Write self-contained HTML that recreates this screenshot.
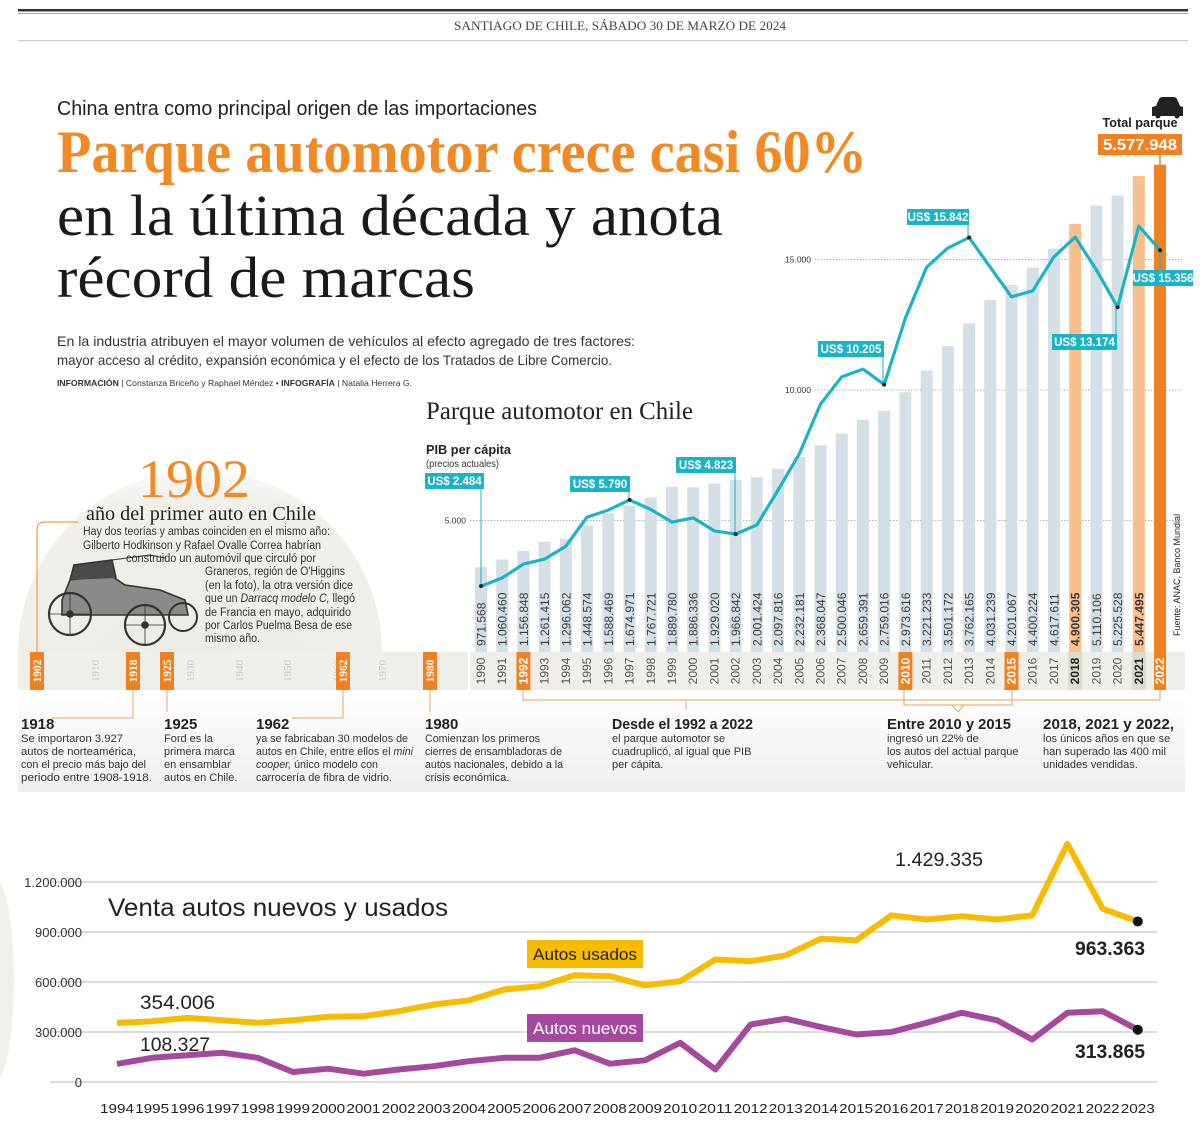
<!DOCTYPE html>
<html><head><meta charset="utf-8">
<style>
html,body{margin:0;padding:0;background:#fff;}
svg{display:block;}
.sans{font-family:"Liberation Sans Narrow","Liberation Sans",sans-serif;}
.serif{font-family:"Liberation Serif",serif;}
</style></head>
<body>
<svg id="page" width="1200" height="1140" viewBox="0 0 1200 1140" xmlns="http://www.w3.org/2000/svg">
<defs>
<radialGradient id="halo" cx="0.5" cy="1" r="1">
<stop offset="0" stop-color="#ecebe5"/><stop offset="0.85" stop-color="#f1f0eb"/><stop offset="1" stop-color="#fafaf8"/>
</radialGradient>
<linearGradient id="notesbg" x1="0" y1="0" x2="0" y2="1">
<stop offset="0" stop-color="#ffffff"/><stop offset="1" stop-color="#efefef"/>
</linearGradient>
</defs>
<rect width="1200" height="1140" fill="#fff"/>

<g>
<rect x="18" y="9" width="1170" height="2.5" fill="#333"/>
<rect x="18" y="13" width="1170" height="0.8" fill="#888"/>
<text x="620" y="30" text-anchor="middle" class="serif" font-size="12.5" fill="#444" textLength="332" lengthAdjust="spacingAndGlyphs">SANTIAGO DE CHILE, SÁBADO 30 DE MARZO DE 2024</text>
<rect x="18" y="40" width="1170" height="1.2" fill="#ccc"/>
</g>

<g>
<text x="57" y="115" class="sans" font-size="20" fill="#222" textLength="480" lengthAdjust="spacingAndGlyphs">China entra como principal origen de las importaciones</text>
<text x="57" y="172" class="serif" font-weight="bold" font-size="60" fill="#f08a24" textLength="810" lengthAdjust="spacingAndGlyphs">Parque automotor crece casi 60%</text>
<text x="57" y="235" class="serif" font-size="58" fill="#1a1a1a" textLength="666" lengthAdjust="spacingAndGlyphs">en la última década y anota</text>
<text x="57" y="297" class="serif" font-size="58" fill="#1a1a1a" textLength="418" lengthAdjust="spacingAndGlyphs">récord de marcas</text>
<text x="57" y="346" class="sans" font-size="14" fill="#333" textLength="578" lengthAdjust="spacingAndGlyphs">En la industria atribuyen el mayor volumen de vehículos al efecto agregado de tres factores:</text>
<text x="57" y="365" class="sans" font-size="14" fill="#333" textLength="555" lengthAdjust="spacingAndGlyphs">mayor acceso al crédito, expansión económica y el efecto de los Tratados de Libre Comercio.</text>
<text x="57" y="386" class="sans" font-size="8.5" fill="#333" textLength="355" lengthAdjust="spacingAndGlyphs"><tspan font-weight="bold">INFORMACIÓN</tspan> | Constanza Briceño y Raphael Méndez  •  <tspan font-weight="bold">INFOGRAFÍA</tspan> | Natalia Herrera G.</text>
</g>

<path d="M18 652 A182 182 0 0 1 382 652 Z" fill="url(#halo)"/>
<g>
<text x="138" y="497" class="serif" font-size="54" fill="#f08a24" textLength="112" lengthAdjust="spacingAndGlyphs">1902</text>
<text x="86" y="520" class="serif" font-size="20" fill="#222" textLength="230" lengthAdjust="spacingAndGlyphs">año del primer auto en Chile</text>
<g class="sans" font-size="11.5" fill="#333">
<text x="83" y="535" textLength="247" lengthAdjust="spacingAndGlyphs">Hay dos teorías y ambas coinciden en el mismo año:</text>
<text x="83" y="549" textLength="238" lengthAdjust="spacingAndGlyphs">Gilberto Hodkinson y Rafael Ovalle Correa habrían</text>
<text x="126" y="562" textLength="190" lengthAdjust="spacingAndGlyphs">construido un automóvil que circuló por</text>
<text x="205" y="575" textLength="140" lengthAdjust="spacingAndGlyphs">Graneros, región de O'Higgins</text>
<text x="205" y="589" textLength="148" lengthAdjust="spacingAndGlyphs">(en la foto), la otra versión dice</text>
<text x="205" y="602" textLength="150" lengthAdjust="spacingAndGlyphs">que un <tspan font-style="italic">Darracq modelo C,</tspan> llegó</text>
<text x="205" y="616" textLength="146" lengthAdjust="spacingAndGlyphs">de Francia en mayo, adquirido</text>
<text x="205" y="629" textLength="147" lengthAdjust="spacingAndGlyphs">por Carlos Puelma Besa de ese</text>
<text x="205" y="642" textLength="55" lengthAdjust="spacingAndGlyphs">mismo año.</text>
</g>
<g fill="none" stroke="#333" stroke-width="1.6">
<path d="M62 600 L70 580 L110 575 L125 585 L160 590 L185 600 L188 615 L62 615 Z" fill="#8a8a8a"/>
<path d="M70 580 L74 565 L112 560 L116 578" fill="#4a4a4a"/>
<path d="M112 560 L150 555 L165 558" stroke-width="1"/>
<circle cx="70" cy="614" r="21" stroke-width="2.2"/><circle cx="70" cy="614" r="3" fill="#333"/>
<circle cx="145" cy="625" r="20" stroke-width="2.2"/><circle cx="145" cy="625" r="3" fill="#333"/>
<circle cx="183" cy="617" r="14" stroke-width="2"/>
<path d="M70 593 L70 635 M49 614 L91 614 M145 605 L145 645 M125 625 L165 625" stroke-width="0.8"/>
</g>
<path d="M37 652 L37 530 Q37 522 45 522 L78 522" fill="none" stroke="#f08a24" stroke-width="1"/>
</g>

<rect x="18" y="690" width="1167" height="102" fill="url(#notesbg)"/>
<rect x="18" y="652" width="450" height="38" fill="#efeee9"/>
<rect x="470" y="652" width="715" height="38" fill="#efeee9"/>

<g id="history"></g>
<g id="chart"></g>

<text x="426" y="419" class="serif" font-size="25" fill="#222" textLength="267" lengthAdjust="spacingAndGlyphs">Parque automotor en Chile</text>
<text x="426" y="454" class="sans" font-weight="bold" font-size="13" fill="#222" textLength="85" lengthAdjust="spacingAndGlyphs">PIB per cápita</text>
<text x="426" y="467" class="sans" font-size="10" fill="#333" textLength="73" lengthAdjust="spacingAndGlyphs">(precios actuales)</text>
<text transform="translate(1180,636) rotate(-90)" class="sans" font-size="9" fill="#222">Fuente: ANAC, Banco Mundial</text>

<g>
<path d="M1152 116 L1152 107 L1156 106 L1159 99 Q1160 97 1163 97 L1173 97 Q1176 97 1177 99 L1180 106 L1183 107 L1183 116 Z" fill="#222"/>
<circle cx="1158" cy="116" r="2.5" fill="#222"/><circle cx="1177" cy="116" r="2.5" fill="#222"/>
<text x="1140" y="127" text-anchor="middle" class="sans" font-weight="bold" font-size="13" fill="#222" textLength="75" lengthAdjust="spacingAndGlyphs">Total parque</text>
<rect x="1098" y="134" width="84" height="21" fill="#f08020"/>
<text x="1140" y="150" text-anchor="middle" class="sans" font-weight="bold" font-size="16" fill="#fff" textLength="74" lengthAdjust="spacingAndGlyphs">5.577.948</text>
<line x1="1160" y1="155" x2="1160" y2="165" stroke="#f08020" stroke-width="1.5"/>
</g>

<g class="sans" fill="#222">
<g font-weight="bold" font-size="15">
<text x="21" y="729">1918</text><text x="164" y="729">1925</text><text x="256" y="729">1962</text><text x="425" y="729">1980</text>
<text x="612" y="729" textLength="141" lengthAdjust="spacingAndGlyphs">Desde el 1992 a 2022</text>
<text x="887" y="729" textLength="124" lengthAdjust="spacingAndGlyphs">Entre 2010 y 2015</text>
<text x="1043" y="729" textLength="131" lengthAdjust="spacingAndGlyphs">2018, 2021 y 2022,</text>
</g>
<g font-size="11" fill="#333">
<text x="21" y="742" textLength="102" lengthAdjust="spacingAndGlyphs">Se importaron 3.927</text>
<text x="21" y="755" textLength="115" lengthAdjust="spacingAndGlyphs">autos de norteamérica,</text>
<text x="21" y="768" textLength="125" lengthAdjust="spacingAndGlyphs">con el precio más bajo del</text>
<text x="21" y="781" textLength="131" lengthAdjust="spacingAndGlyphs">periodo entre 1908-1918.</text>
<text x="164" y="742">Ford es la</text><text x="164" y="755">primera marca</text><text x="164" y="768">en ensamblar</text><text x="164" y="781">autos en Chile.</text>
<text x="256" y="742" textLength="152" lengthAdjust="spacingAndGlyphs">ya se fabricaban 30 modelos de</text>
<text x="256" y="755" textLength="157" lengthAdjust="spacingAndGlyphs">autos en Chile, entre ellos el <tspan font-style="italic">mini</tspan></text>
<text x="256" y="768" textLength="122" lengthAdjust="spacingAndGlyphs"><tspan font-style="italic">cooper,</tspan> único modelo con</text>
<text x="256" y="781" textLength="136" lengthAdjust="spacingAndGlyphs">carrocería de fibra de vidrio.</text>
<text x="425" y="742" textLength="115" lengthAdjust="spacingAndGlyphs">Comienzan los primeros</text>
<text x="425" y="755" textLength="137" lengthAdjust="spacingAndGlyphs">cierres de ensambladoras de</text>
<text x="425" y="768" textLength="138" lengthAdjust="spacingAndGlyphs">autos nacionales, debido a la</text>
<text x="425" y="781">crisis económica.</text>
<text x="612" y="742">el parque automotor se</text>
<text x="612" y="755">cuadruplicó, al igual que PIB</text>
<text x="612" y="768">per cápita.</text>
<text x="887" y="742">ingresó un 22% de</text>
<text x="887" y="755">los autos del actual parque</text>
<text x="887" y="768">vehicular.</text>
<text x="1043" y="742">los únicos años en que se</text>
<text x="1043" y="755">han superado las 400 mil</text>
<text x="1043" y="768">unidades vendidas.</text>
</g>
</g>
<g fill="none" stroke="#e8a860" stroke-width="1">
<path d="M133 690 L133 718 L52 718"/>
<path d="M167 690 L167 712"/>
<path d="M343 690 L343 718 L292 718"/>
<path d="M430 690 L430 712"/>
<path d="M523 690 L523 700 L1160 700 L1160 690"/>
<path d="M686 700 L686 710"/>
<path d="M904 690 L904 705 L1012 705 L1012 690 M952 705 L958 712 L964 705"/>
</g>

<path d="M0 880 A24 110 0 0 1 0 1080 Z" fill="#f1f0ea"/>
<g id="sales"></g>
</svg>

<script>
// ---------- Parque chart data ----------
const years = [1990,1991,1992,1993,1994,1995,1996,1997,1998,1999,2000,2001,2002,2003,2004,2005,2006,2007,2008,2009,2010,2011,2012,2013,2014,2015,2016,2017,2018,2019,2020,2021,2022];
const parque = [971568,1060460,1156848,1261415,1296062,1448574,1588469,1674971,1767721,1889780,1886336,1929020,1966842,2001424,2097816,2232181,2368047,2500046,2659391,2759016,2973616,3221233,3501172,3762165,4031239,4201067,4400224,4617611,4900305,5110106,5225528,5447495,5577948];
const parqueLabels = ["971.568","1.060.460","1.156.848","1.261.415","1.296.062","1.448.574","1.588.469","1.674.971","1.767.721","1.889.780","1.886.336","1.929.020","1.966.842","2.001.424","2.097.816","2.232.181","2.368.047","2.500.046","2.659.391","2.759.016","2.973.616","3.221.233","3.501.172","3.762.165","4.031.239","4.201.067","4.400.224","4.617.611","4.900.305","5.110.106","5.225.528","5.447.495",""];
const pib = [2484,2800,3330,3520,4020,5130,5400,5790,5420,4940,5100,4600,4480,4830,6170,7550,9460,10500,10800,10205,12760,14700,15440,15842,14700,13570,13800,15100,15860,14600,13174,16280,15356];
const pibTicks = [5000,10000,15000];
const pibTickLabels = ["5.000","10.000","15.000"];
const orangeYears = [1992,2010,2015];
const lightOrangeYears = [2018,2021];
const historyYears = [1902,1910,1918,1925,1930,1940,1950,1960,1962,1970,1980];
const historyHighlight = [1902,1918,1925,1962,1980];

// ---------- Sales chart data ----------
const salesYears = [1994,1995,1996,1997,1998,1999,2000,2001,2002,2003,2004,2005,2006,2007,2008,2009,2010,2011,2012,2013,2014,2015,2016,2017,2018,2019,2020,2021,2022,2023];
const usados = [354006,365000,385000,370000,355000,370000,392000,395000,425000,465000,490000,555000,575000,640000,635000,580000,605000,735000,725000,760000,860000,850000,1000000,975000,995000,975000,1000000,1429335,1040000,963363];
const nuevos = [108327,145000,160000,175000,145000,60000,80000,50000,75000,95000,125000,145000,145000,190000,110000,130000,235000,75000,345000,380000,330000,285000,300000,355000,415000,370000,255000,415000,425000,313865];
const salesTicks = [0,300000,600000,900000,1200000];
const salesTickLabels = ["0","300.000","600.000","900.000","1.200.000"];

const NS = "http://www.w3.org/2000/svg";
function mk(tag, attrs, parent, txt){
  const e = document.createElementNS(NS, tag);
  for (const k in attrs) e.setAttribute(k, attrs[k]);
  if (txt !== undefined) e.textContent = txt;
  parent.appendChild(e);
  return e;
}

const bx = y => 481 + (y - 1990) * 21.22;
const by = v => 652 - v * 8.736e-5;
const py = v => 651 - v * 0.0261;

const chart = document.getElementById('chart');
pibTicks.forEach((t,i)=>{
  const x0 = i === 0 ? 470 : 815;
  const g = mk('line',{x1:x0,y1:py(t),x2:1182,y2:py(t),stroke:'#999','stroke-width':0.8,'stroke-dasharray':'1.5 1.5'},chart);
  
  
  const tl = mk('text',{x:x0-4,y:py(t)+3,'text-anchor':'end','font-size':8.5,fill:'#333','font-family':'Liberation Sans, sans-serif'},chart,pibTickLabels[i]);
  
  
});
years.forEach((yr,i)=>{
  let fill = '#d5dfe6';
  if (lightOrangeYears.includes(yr)) fill = '#f9c08e';
  if (yr === 2022) fill = '#f08020';
  const bottom = yr === 2022 ? 690 : 652;
  const r = mk('rect',{x:bx(yr)-6,y:by(parque[i]),width:12,height:bottom-by(parque[i]),fill:fill},chart);
  
  
  if (parqueLabels[i]) {
    const bold = lightOrangeYears.includes(yr);
    const t = mk('text',{transform:`translate(${bx(yr)+4.5},646) rotate(-90)`,'font-size':12,fill:'#3a3a3a','font-weight':bold?'bold':'normal','font-family':'Liberation Sans Narrow, Liberation Sans, sans-serif'},chart,parqueLabels[i]);
    
    
  }
});
years.forEach((yr)=>{
  let color = '#555', bold = false;
  if (orangeYears.includes(yr)) { mk('rect',{x:bx(yr)-7,y:652,width:14,height:38,fill:'#f08020'},chart); color='#fff'; bold=true; }
  if (lightOrangeYears.includes(yr)) { mk('rect',{x:bx(yr)-7,y:652,width:14,height:38,fill:'#dcdbd2'},chart); color='#222'; bold=true; }
  if (yr === 2022) { color='#fff'; bold=true; }
  const t = mk('text',{transform:`translate(${bx(yr)+4},671) rotate(-90)`,'text-anchor':'middle','font-size':12,fill:color,'font-weight':bold?'bold':'normal','font-family':'Liberation Sans Narrow, Liberation Sans, sans-serif'},chart,String(yr));
  
  
});
const pts = years.map((yr,i)=>`${bx(yr).toFixed(1)},${py(pib[i]).toFixed(1)}`).join(' ');
const line = mk('polyline',{points:pts,fill:'none',stroke:'#1bb3c6','stroke-width':3.2,'stroke-linejoin':'round'},chart);


const callouts = [[1990,'US$ 2.484',425,473,59],[1997,'US$ 5.790',570,476,60],[2002,'US$ 4.823',676,457,60],[2009,'US$ 10.205',818,341,66],[2013,'US$ 15.842',907,209,62],[2020,'US$ 13.174',1052,334,65],[2022,'US$ 15.356',1133,270,60]];
callouts.forEach(c=>{
  const i = years.indexOf(c[0]);
  const x = bx(c[0]), y = py(pib[i]);
  const boxMid = c[3] + 8;
  const lx = Math.min(Math.max(x, c[2]+1), c[2]+c[4]-1);
  mk('line',{x1:lx,y1:y,x2:lx,y2: y > boxMid ? c[3]+16 : c[3],stroke:'#1bb3c6','stroke-width':1},chart);
  mk('circle',{cx:x,cy:y,r:2,fill:'#222'},chart);
  const g = mk('g',{},chart);
  
  
  mk('rect',{x:c[2],y:c[3],width:c[4],height:16,fill:'#1bb3c6'},g);
  mk('text',{x:c[2]+c[4]/2,y:c[3]+12,'text-anchor':'middle','font-size':11.5,'font-weight':'bold',fill:'#fff','font-family':'Liberation Sans Narrow, Liberation Sans, sans-serif'},g,c[1]);
});

// history timeline: piecewise scale (non-uniform in the original)
function hx(y){
  const a = [[1902,37],[1910,95],[1918,133],[1925,167],[1930,190],[1940,239],[1950,287],[1960,337],[1962,343],[1970,382],[1980,430]];
  for (let k=0;k<a.length-1;k++){
    if (y <= a[k+1][0]) return a[k][1] + (y-a[k][0])*(a[k+1][1]-a[k][1])/(a[k+1][0]-a[k][0]);
  }
  return a[a.length-1][1];
}
const hist = document.getElementById('history');
historyYears.forEach(yr=>{
  const hl = historyHighlight.includes(yr);
  if (hl) mk('rect',{x:hx(yr)-7,y:652,width:14,height:38,fill:'#f08020'},hist);
  const t = mk('text',{transform:`translate(${hx(yr)+4},671) rotate(-90)`,'text-anchor':'middle','font-size':hl?11.5:11,fill:hl?'#fff':'#c9c8c2','font-weight':hl?'bold':'normal','font-family':'Liberation Serif, serif'},hist,String(yr));
  
  
});

const sx = y => 117 + (y - 1994) * 35.2;
const sy = v => 1082 - v / 6000;
const sales = document.getElementById('sales');
salesTicks.forEach((t,i)=>{
  const gl = mk('line',{x1:50,y1:sy(t),x2:1157,y2:sy(t),stroke:'#cfcfcf','stroke-width':1.5},sales);
  
  
  const tl = mk('text',{x:82,y:sy(t)+5,'text-anchor':'end','font-size':13,fill:'#333','font-family':'Liberation Sans Narrow, Liberation Sans, sans-serif'},sales,salesTickLabels[i]);
  
  
});
salesYears.forEach(yr=>{
  const t = mk('text',{x:sx(yr),y:1113,'text-anchor':'middle','font-size':13,fill:'#222','font-family':'Liberation Sans Narrow, Liberation Sans, sans-serif',textLength:34,lengthAdjust:'spacingAndGlyphs'},sales,String(yr));
  
  
});
const tt = mk('text',{x:108,y:916,'font-size':25,fill:'#222','font-family':'Liberation Sans Narrow, Liberation Sans, sans-serif',textLength:340,lengthAdjust:'spacingAndGlyphs'},sales,'Venta autos nuevos y usados');


const ul = mk('polyline',{points:salesYears.map((y,i)=>`${sx(y).toFixed(1)},${sy(usados[i]).toFixed(1)}`).join(' '),fill:'none',stroke:'#f7bb00','stroke-width':6,'stroke-linejoin':'round'},sales);


const nl = mk('polyline',{points:salesYears.map((y,i)=>`${sx(y).toFixed(1)},${sy(nuevos[i]).toFixed(1)}`).join(' '),fill:'none',stroke:'#a4499e','stroke-width':6,'stroke-linejoin':'round'},sales);


const last = salesYears.length-1;
mk('circle',{cx:sx(salesYears[last]),cy:sy(usados[last]),r:5,fill:'#111'},sales);
mk('circle',{cx:sx(salesYears[last]),cy:sy(nuevos[last]),r:5,fill:'#111'},sales);
const lu = mk('g',{},sales);


mk('rect',{x:527,y:940,width:116,height:28,fill:'#f7bb00'},lu);
mk('text',{x:585,y:960,'text-anchor':'middle','font-size':17,fill:'#222','font-family':'Liberation Sans Narrow, Liberation Sans, sans-serif',textLength:104,lengthAdjust:'spacingAndGlyphs'},lu,'Autos usados');
const ln = mk('g',{},sales);


mk('rect',{x:527,y:1014,width:116,height:28,fill:'#a4499e'},ln);
mk('text',{x:585,y:1034,'text-anchor':'middle','font-size':17,fill:'#fff','font-family':'Liberation Sans Narrow, Liberation Sans, sans-serif',textLength:104,lengthAdjust:'spacingAndGlyphs'},ln,'Autos nuevos');
const ann = [[140,1009,'354.006',false,75],[140,1051,'108.327',false,70],[895,866,'1.429.335',false,88],[1075,955,'963.363',true,70],[1075,1058,'313.865',true,70]];
ann.forEach(a=>{
  const t = mk('text',{x:a[0],y:a[1],'font-size':19,fill:'#222','font-weight':a[3]?'bold':'normal','font-family':'Liberation Sans Narrow, Liberation Sans, sans-serif',textLength:a[4],lengthAdjust:'spacingAndGlyphs'},sales,a[2]);
  
  
});
</script>
</body></html>
